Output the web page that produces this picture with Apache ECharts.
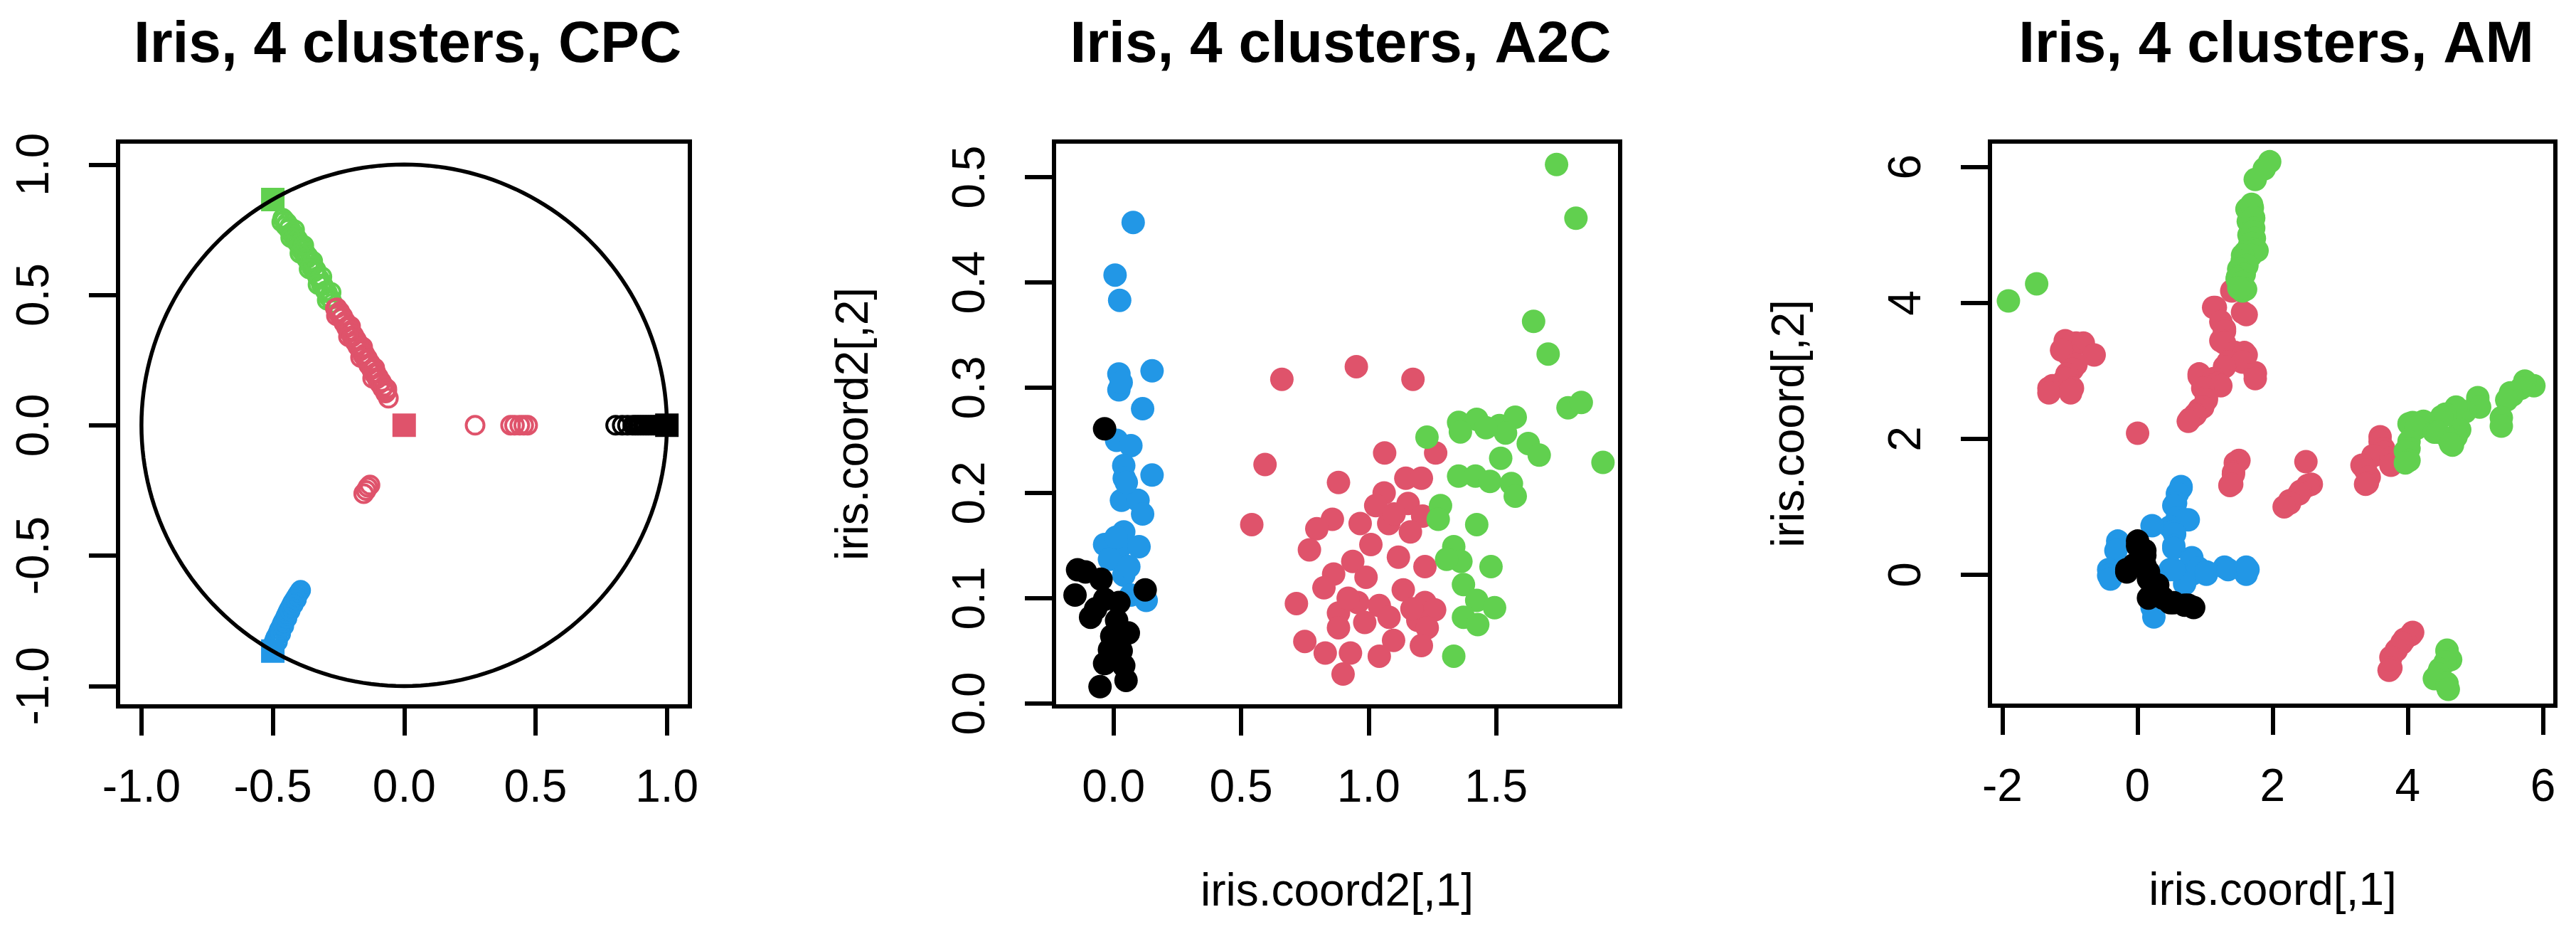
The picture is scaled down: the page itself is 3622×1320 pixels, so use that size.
<!DOCTYPE html>
<html>
<head>
<meta charset="utf-8">
<script src="https://cdn.jsdelivr.net/npm/echarts@6/dist/echarts.min.js"></script>
<style>
html,body{margin:0;padding:0;background:#fff;}
#c{width:3622px;height:1320px;}
</style>
</head>
<body>
<div id="c"></div>
<script>
// ---------- titles & axis labels ----------
const titles = ['Iris, 4 clusters, CPC', 'Iris, 4 clusters, A2C', 'Iris, 4 clusters, AM'];
const xNames = ['', 'iris.coord2[,1]', 'iris.coord[,1]'];
const yNames = ['', 'iris.coord2[,2]', 'iris.coord[,2]'];

// ---------- tick values ----------
const xTicks1 = [-1, -0.5, 0, 0.5, 1];
const yTicks1 = [-1, -0.5, 0, 0.5, 1];
const xTicks2 = [0, 0.5, 1, 1.5];
const yTicks2 = [0, 0.1, 0.2, 0.3, 0.4, 0.5];
const xTicks3 = [-2, 0, 2, 4, 6];
const yTicks3 = [0, 2, 4, 6];

// ---------- panel 1 : CPC (open circles + filled square centres) ----------
const cpcCircle = {center: [0, 0], radius: 1};
const cpcGreen = [[-0.462,0.794],[-0.455,0.786],[-0.451,0.765],[-0.446,0.776],[-0.440,0.752],[-0.436,0.762],[-0.431,0.738],[-0.425,0.741],[-0.421,0.722],[-0.416,0.730],[-0.410,0.705],[-0.405,0.713],[-0.400,0.690],[-0.396,0.697],[-0.391,0.671],[-0.386,0.683],[-0.380,0.655],[-0.376,0.662],[-0.371,0.638],[-0.366,0.648],[-0.361,0.622],[-0.357,0.630],[-0.352,0.605],[-0.346,0.612],[-0.341,0.589],[-0.336,0.596],[-0.330,0.570],[-0.322,0.561],[-0.316,0.542],[-0.308,0.536],[-0.300,0.515],[-0.292,0.508],[-0.286,0.490],[-0.278,0.483],[-0.272,0.468],
  [-0.466,0.780],[-0.417,0.750],[-0.432,0.720],[-0.382,0.690],[-0.397,0.660],[-0.348,0.630],[-0.362,0.600],[-0.313,0.570],[-0.328,0.540],[-0.278,0.510],[-0.293,0.480]];
const cpcRed = [[-0.262,0.448],[-0.256,0.450],[-0.250,0.428],[-0.245,0.436],[-0.240,0.410],[-0.234,0.418],[-0.229,0.392],[-0.224,0.399],[-0.219,0.374],[-0.213,0.382],[-0.208,0.356],[-0.203,0.364],[-0.198,0.338],[-0.192,0.345],[-0.187,0.320],[-0.182,0.328],[-0.177,0.303],[-0.171,0.310],[-0.166,0.285],[-0.161,0.292],[-0.156,0.267],[-0.150,0.274],[-0.145,0.249],[-0.140,0.257],[-0.135,0.231],[-0.129,0.238],[-0.124,0.214],[-0.119,0.220],[-0.114,0.196],[-0.108,0.203],[-0.103,0.178],[-0.098,0.185],[-0.093,0.160],[-0.087,0.167],[-0.082,0.142],[-0.077,0.150],[-0.071,0.124],[-0.066,0.131],[-0.060,0.104],
  [-0.258,0.420],[-0.204,0.380],[-0.212,0.340],[-0.158,0.300],[-0.166,0.260],[-0.112,0.220],[-0.120,0.180],[-0.066,0.140],
  [0.270,0.0],[0.405,0.0],[0.420,0.0],[0.440,0.0],[0.455,0.0],[0.470,0.0],
  [-0.154,-0.262],[-0.145,-0.250],[-0.138,-0.238],[-0.130,-0.229]];
const cpcBlue = [[-0.497,-0.835],[-0.492,-0.822],[-0.488,-0.812],[-0.483,-0.805],[-0.479,-0.795],[-0.475,-0.784],[-0.470,-0.776],[-0.466,-0.766],[-0.462,-0.757],[-0.458,-0.749],[-0.453,-0.740],[-0.449,-0.730],[-0.445,-0.722],[-0.441,-0.713],[-0.437,-0.705],[-0.432,-0.696],[-0.428,-0.688],[-0.424,-0.680],[-0.419,-0.672],[-0.414,-0.664],[-0.409,-0.656],[-0.404,-0.648],[-0.399,-0.640],[-0.394,-0.633],
  [-0.482,-0.830],[-0.470,-0.800],[-0.458,-0.770],[-0.446,-0.740],[-0.434,-0.712],[-0.422,-0.688],[-0.410,-0.668]];
const cpcBlack = [[0.805,0],[0.830,0],[0.850,0],[0.870,0],[0.880,0],[0.890,0],[0.900,0],[0.910,0],[0.920,0],[0.930,0],[0.940,0],[0.950,0],[0.960,0],[0.970,0],[0.980,0],[0.990,0],[1.000,0]];
const cpcCentres = {black: [1, 0], red: [0, 0], green: [-0.5, 0.866], blue: [-0.5, -0.866]};

// ---------- panel 2 : A2C ----------
const a2cBlack = [[-0.035,0.261],[-0.141,0.127],[-0.049,0.118],[-0.151,0.103],[0.124,0.108],[-0.090,0.082],[0.021,0.096],[0.012,0.079],[-0.035,0.099],[-0.007,0.064],[0.058,0.067],[-0.016,0.051],[-0.035,0.038],[0.040,0.036],[0.049,0.022],[-0.053,0.016],[0.030,0.050],[-0.110,0.125],[-0.070,0.090]];
const a2cBlue = [[0.077,0.457],[0.006,0.407],[0.024,0.383],[0.021,0.313],[0.021,0.298],[0.151,0.316],[0.114,0.280],[0.012,0.250],[0.068,0.245],[0.040,0.226],[0.042,0.214],[0.151,0.217],[0.031,0.193],[0.096,0.193],[0.114,0.180],[0.040,0.163],[-0.035,0.151],[0.021,0.147],[0.100,0.149],[-0.016,0.137],[0.040,0.122],[0.068,0.103],[0.128,0.098],[0.010,0.158],[0.060,0.130],[0.030,0.305],[0.050,0.210]];
const a2cRed = [[0.660,0.308],[0.952,0.320],[1.174,0.308],[0.594,0.227],[1.063,0.238],[1.263,0.238],[0.882,0.210],[1.146,0.214],[1.207,0.214],[0.542,0.170],[1.061,0.200],[1.028,0.188],[1.155,0.190],[1.212,0.178],[0.967,0.171],[1.079,0.171],[1.164,0.163],[0.858,0.175],[0.797,0.166],[0.768,0.146],[1.009,0.151],[1.117,0.139],[1.221,0.130],[0.938,0.135],[0.863,0.123],[0.990,0.120],[0.825,0.110],[0.717,0.095],[0.882,0.086],[0.957,0.096],[1.042,0.093],[1.136,0.108],[1.221,0.096],[1.259,0.089],[1.080,0.082],[1.193,0.079],[0.882,0.072],[0.985,0.077],[1.230,0.072],[1.098,0.060],[1.207,0.055],[0.750,0.059],[0.830,0.048],[0.929,0.048],[1.042,0.045],[0.900,0.028],[1.100,0.180],[0.920,0.100],[1.170,0.090]];
const a2cGreen = [[1.737,0.512],[1.813,0.461],[1.647,0.363],[1.704,0.332],[1.782,0.281],[1.834,0.286],[1.919,0.229],[1.229,0.253],[1.353,0.267],[1.424,0.270],[1.513,0.264],[1.575,0.272],[1.537,0.257],[1.626,0.247],[1.669,0.236],[1.518,0.233],[1.353,0.216],[1.419,0.216],[1.476,0.211],[1.560,0.209],[1.575,0.197],[1.282,0.188],[1.273,0.175],[1.424,0.170],[1.334,0.149],[1.362,0.135],[1.306,0.137],[1.480,0.130],[1.372,0.113],[1.424,0.098],[1.494,0.091],[1.372,0.082],[1.428,0.075],[1.334,0.045],[1.360,0.258],[1.460,0.262]];

// ---------- panel 3 : AM ----------
const amBlack = [[0.002,0.426],[0.002,0.496],[0.109,0.356],[0.109,0.286],[-0.051,0.147],[-0.158,0.077],[-0.158,0.042],[0.109,0.147],[0.163,0.042],[0.163,-0.063],[0.216,-0.133],[0.216,-0.272],[0.163,-0.342],[0.377,-0.342],[0.484,-0.412],[0.538,-0.412],[0.698,-0.447],[0.752,-0.447],[0.832,-0.482],[0.060,0.250],[0.300,-0.150]];
const amBlue = [[0.645,1.298],[0.645,1.280],[0.591,1.193],[0.564,1.054],[0.538,1.019],[0.591,0.844],[0.752,0.809],[0.698,0.809],[0.484,0.705],[0.538,0.635],[0.550,0.600],[0.538,0.426],[0.538,0.391],[0.216,0.722],[-0.292,0.496],[-0.292,0.426],[-0.319,0.356],[-0.426,0.077],[-0.426,-0.011],[-0.400,-0.063],[0.805,0.251],[0.805,0.216],[0.805,0.007],[0.698,-0.028],[0.698,-0.133],[0.484,0.077],[0.538,0.077],[0.900,0.100],[1.020,0.007],[1.020,0.042],[1.288,0.112],[1.341,0.077],[1.609,0.112],[1.609,0.007],[1.636,0.077],[0.216,-0.482],[0.243,-0.621]];
const amRed = [[-0.909,3.409],[-1.069,3.444],[-0.801,3.409],[-0.641,3.235],[-1.016,3.235],[-1.123,3.305],[-0.909,3.095],[-0.962,3.025],[-1.043,2.956],[-1.069,2.886],[-1.257,2.781],[-0.962,2.746],[-1.310,2.746],[-1.310,2.676],[-0.989,2.676],[-0.989,2.711],
  [1.395,4.177],[1.127,3.933],[1.153,3.933],[1.555,3.863],[1.609,3.828],[1.234,3.723],[1.288,3.618],[1.288,3.584],[1.234,3.444],[1.288,3.409],[1.448,3.270],[1.582,3.270],[1.609,3.235],[1.341,3.130],[1.555,3.130],[1.288,3.060],[1.743,2.973],[1.743,2.956],[0.913,2.956],[1.743,2.886],[0.913,2.921],[1.127,2.886],[1.180,2.816],[1.234,2.781],[0.966,2.746],[1.020,2.607],[1.020,2.572],[0.966,2.467],[0.913,2.432],[0.859,2.362],[0.850,2.350],[0.779,2.293],[0.752,2.258],
  [0.002,2.083],
  [1.502,1.682],[1.448,1.647],[1.422,1.507],[1.420,1.480],[1.368,1.315],[1.395,1.333],
  [2.493,1.664],[2.573,1.333],[2.519,1.315],[2.413,1.228],[2.390,1.190],[2.252,1.089],[2.252,1.054],[2.171,1.001],
  [3.591,2.031],[3.591,1.961],[3.644,1.856],[3.650,1.800],[3.484,1.751],[3.751,1.717],[3.751,1.612],[3.323,1.612],[3.376,1.542],[3.430,1.438],[3.403,1.350],[3.376,1.333],
  [4.073,-0.848],[4.046,-0.883],[3.950,-0.950],[3.912,-1.005],[3.831,-1.110],[3.751,-1.214],[3.751,-1.371],[3.724,-1.406]];
const amGreen = [[-1.910,4.030],[-1.492,4.282],[1.957,6.078],[1.877,5.974],[1.743,5.817],
  [1.700,5.400],[1.620,5.380],[1.689,5.450],[1.720,5.250],[1.640,5.200],[1.716,5.258],[1.720,5.100],[1.650,5.000],[1.705,5.049],[1.730,4.950],[1.660,4.850],[1.689,4.875],[1.740,4.800],[1.770,4.770],[1.600,4.750],[1.680,4.700],[1.555,4.700],[1.550,4.620],[1.620,4.550],[1.502,4.491],[1.500,4.500],[1.580,4.420],[1.480,4.380],[1.475,4.351],[1.550,4.300],[1.600,4.200],[1.555,4.177],[1.500,4.220],
  [5.867,2.781],[5.733,2.851],[5.679,2.746],[5.546,2.642],[5.519,2.677],[5.465,2.572],[5.037,2.554],[5.037,2.607],[5.064,2.467],[4.850,2.400],[4.742,2.432],[4.715,2.467],[4.555,2.362],[4.501,2.327],[4.233,2.258],[4.072,2.240],[4.019,2.223],[5.385,2.310],[5.385,2.188],[4.126,2.153],[4.126,2.170],[4.394,2.100],[4.447,2.100],[4.769,2.135],[4.715,2.031],[4.608,1.996],[4.662,1.909],[4.635,1.926],[4.019,1.961],[4.019,1.856],[3.965,1.821],[4.019,1.682],[3.965,1.647],
  [4.582,-1.110],[4.582,-1.127],[4.635,-1.249],[4.555,-1.284],[4.475,-1.389],[4.448,-1.459],[4.394,-1.528],[4.582,-1.600],[4.582,-1.633],[4.600,-1.685]];

// ---------- styling ----------
const COL = {black: '#000000', red: '#DF536B', green: '#61D04F', blue: '#2297E6'};
const FONT = 'Liberation Sans, Arial, sans-serif';
const LABEL_SIZE = 64;

const chart = echarts.init(document.getElementById('c'), null, {renderer: 'canvas'});

const grids = [
  {left: 166, top: 199, width: 804, height: 794},
  {left: 1482, top: 199, width: 796, height: 794},
  {left: 2798, top: 199, width: 795, height: 793}
];
const xRanges = [[-1.089, 1.0875], [-0.2334, 1.9863], [-2.183, 6.185]];
const yRanges = [[-1.078, 1.088], [-0.0027, 0.5338], [-1.926, 6.375]];
const xTicks = [xTicks1, xTicks2, xTicks3];
const yTicks = [yTicks1, yTicks2, yTicks3];
const decimals = [1, 1, 0];

function fmt(d) { return v => Number(v).toFixed(d); }

const xAxes = [], yAxes = [];
for (let i = 0; i < 3; i++) {
  xAxes.push({
    gridIndex: i, type: 'value', position: 'bottom', min: xRanges[i][0], max: xRanges[i][1],
    axisLine: {show: false, onZero: false},
    splitLine: {show: false},
    axisTick: {show: true, inside: false, length: 41, customValues: xTicks[i], lineStyle: {color: '#000', width: 6}},
    axisLabel: {show: true, customValues: xTicks[i], margin: 84, formatter: fmt(decimals[i]), color: '#000', fontSize: LABEL_SIZE, fontFamily: FONT},
    name: xNames[i], nameLocation: 'middle', nameGap: 230,
    nameTextStyle: {color: '#000', fontSize: LABEL_SIZE, fontFamily: FONT}
  });
  yAxes.push({
    gridIndex: i, type: 'value', position: 'left', min: yRanges[i][0], max: yRanges[i][1],
    axisLine: {show: false, onZero: false},
    splitLine: {show: false},
    axisTick: {show: true, inside: false, length: 41, customValues: yTicks[i], lineStyle: {color: '#000', width: 6}},
    axisLabel: {show: true, customValues: yTicks[i], rotate: 90, margin: 84, formatter: fmt(decimals[i]), color: '#000', fontSize: LABEL_SIZE, fontFamily: FONT},
    name: yNames[i], nameLocation: 'middle', nameRotate: 90, nameGap: 248,
    nameTextStyle: {color: '#000', fontSize: LABEL_SIZE, fontFamily: FONT}
  });
}

function openSeries(data, color) {
  return {type: 'scatter', xAxisIndex: 0, yAxisIndex: 0, data: data, symbol: 'circle', symbolSize: 25,
    itemStyle: {color: 'rgba(0,0,0,0)', borderColor: color, borderWidth: 4, opacity: 1}, silent: true, z: 2};
}
function squareSeries(pt, color) {
  return {type: 'scatter', xAxisIndex: 0, yAxisIndex: 0, data: [pt], symbol: 'rect', symbolSize: 33,
    itemStyle: {color: color, opacity: 1}, silent: true, z: 3};
}
function dotSeries(idx, data, color, z) {
  return {type: 'scatter', xAxisIndex: idx, yAxisIndex: idx, data: data, symbol: 'circle', symbolSize: 33,
    itemStyle: {color: color, opacity: 1}, silent: true, z: z};
}

const series = [
  openSeries(cpcGreen, COL.green),
  openSeries(cpcRed, COL.red),
  openSeries(cpcBlue, COL.blue),
  openSeries(cpcBlack, COL.black),
  squareSeries(cpcCentres.green, COL.green),
  squareSeries(cpcCentres.red, COL.red),
  squareSeries(cpcCentres.blue, COL.blue),
  squareSeries(cpcCentres.black, COL.black),
  {
    type: 'custom', xAxisIndex: 0, yAxisIndex: 0, silent: true, z: 5,
    data: [[cpcCircle.center[0], cpcCircle.center[1], cpcCircle.radius]],
    renderItem: function (params, api) {
      const cx = api.value(0), cy = api.value(1), r = api.value(2);
      const pts = [];
      for (let k = 0; k <= 200; k++) {
        const t = k / 200 * Math.PI * 2;
        pts.push(api.coord([cx + r * Math.cos(t), cy + r * Math.sin(t)]));
      }
      return {type: 'polyline', shape: {points: pts}, style: {stroke: '#000', lineWidth: 5.5, fill: null}};
    }
  },
  dotSeries(1, a2cRed, COL.red, 2),
  dotSeries(1, a2cGreen, COL.green, 2),
  dotSeries(1, a2cBlue, COL.blue, 3),
  dotSeries(1, a2cBlack, COL.black, 4),
  dotSeries(2, amRed, COL.red, 2),
  dotSeries(2, amGreen, COL.green, 2),
  dotSeries(2, amBlue, COL.blue, 3),
  dotSeries(2, amBlack, COL.black, 4)
];

const centres = [568, 1880, 3195.5];
const option = {
  backgroundColor: '#ffffff',
  animation: false,
  title: titles.map((t, i) => ({
    text: t, left: centres[i], top: 18, textAlign: 'center',
    textStyle: {color: '#000', fontSize: 82, fontWeight: 'bold', fontFamily: FONT}
  })),
  grid: grids.map(g => Object.assign({show: true, borderColor: '#000', borderWidth: 6, backgroundColor: 'rgba(0,0,0,0)', containLabel: false}, g)),
  xAxis: xAxes,
  yAxis: yAxes,
  series: series
};
chart.setOption(option);
</script>
</body>
</html>
